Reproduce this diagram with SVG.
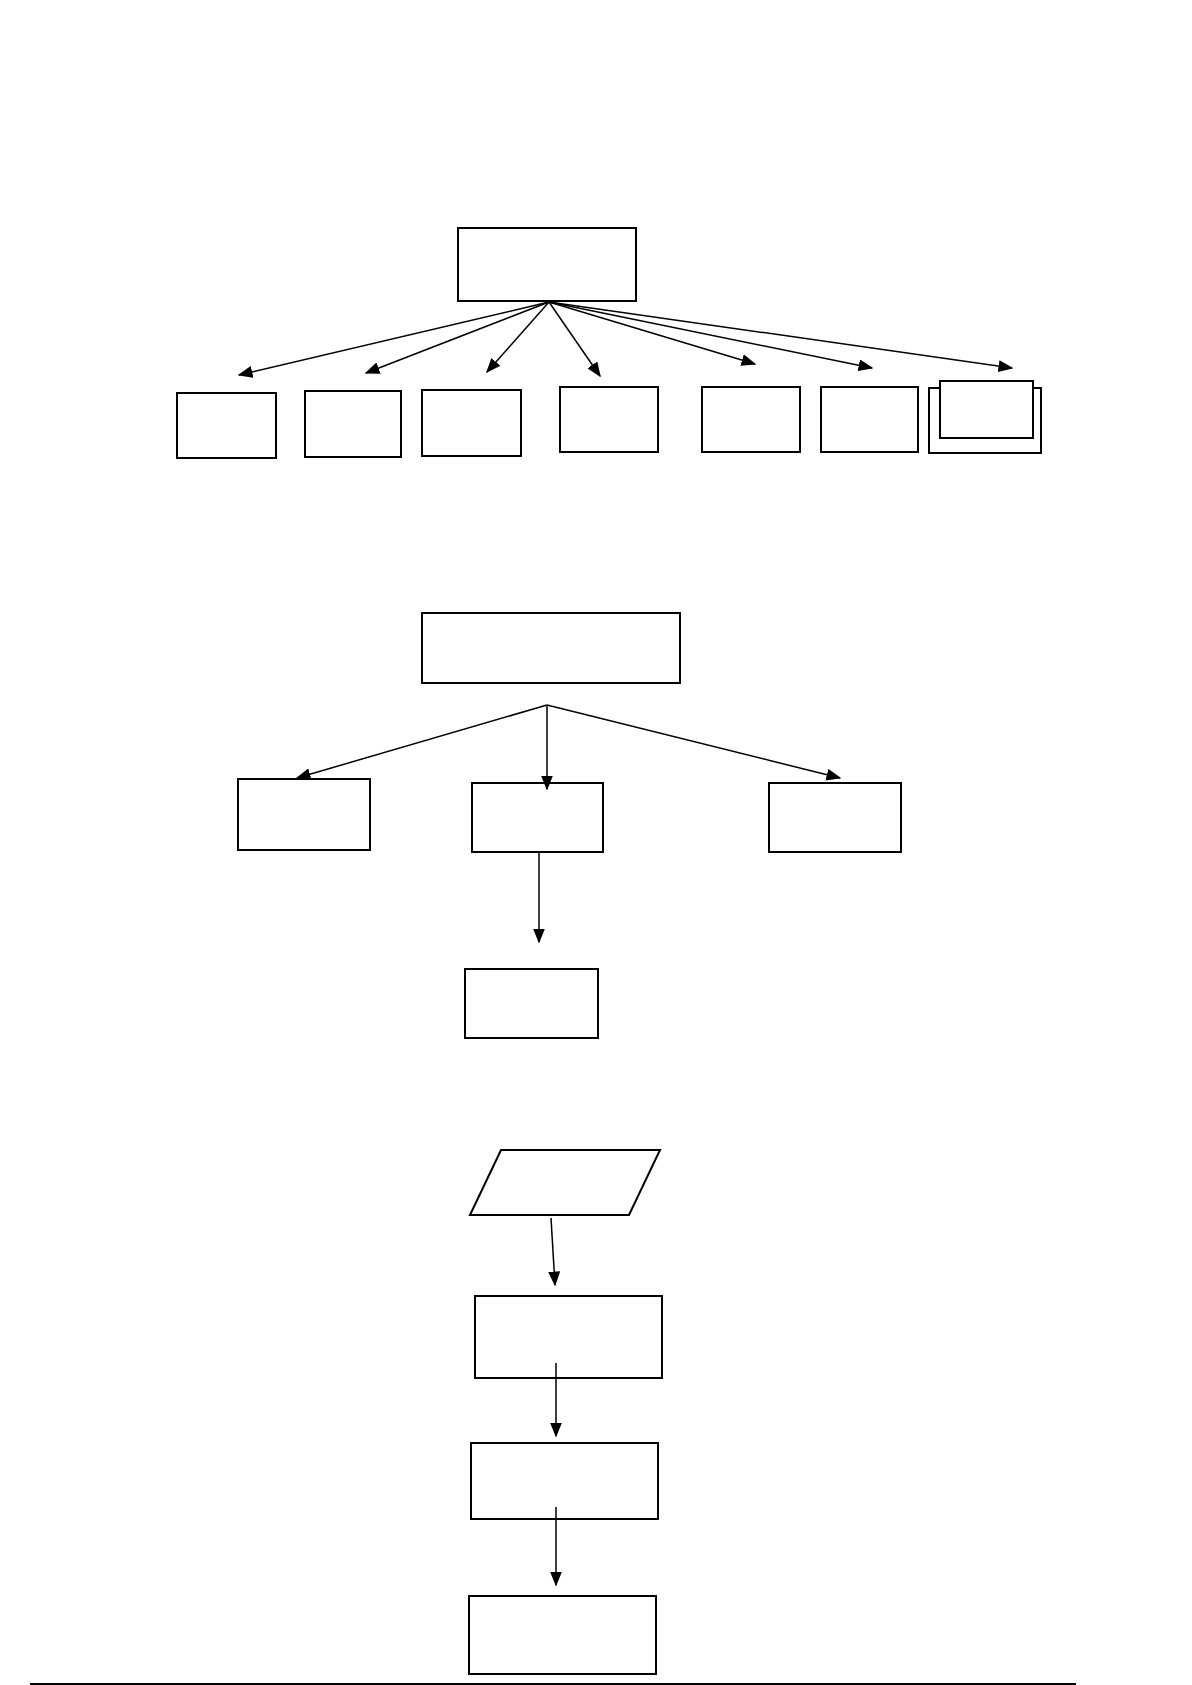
<svg xmlns="http://www.w3.org/2000/svg" width="1192" height="1685" viewBox="0 0 1192 1685">
<style>.b{fill:#fff;stroke:#000;stroke-width:2}.c{stroke:#000;stroke-width:1.5;fill:none;marker-end:url(#a)}</style>
<defs><marker id="a" markerWidth="10" markerHeight="8" refX="9" refY="4" orient="auto" markerUnits="strokeWidth"><path d="M0,0L10,4L0,8z" fill="#000"/></marker></defs>
<rect width="1192" height="1685" fill="#fff"/>
<g id="n0"><rect class="b" x="458" y="228" width="178" height="73"/></g>
<g id="n1"><rect class="b" x="177" y="393" width="99" height="65"/></g>
<g id="n2"><rect class="b" x="305" y="391" width="96" height="66"/></g>
<g id="n3"><rect class="b" x="422" y="390" width="99" height="66"/></g>
<g id="n4"><rect class="b" x="560" y="387" width="98" height="65"/></g>
<g id="n5"><rect class="b" x="702" y="387" width="98" height="65"/></g>
<g id="n6"><rect class="b" x="821" y="387" width="97" height="65"/></g>
<g id="n7"><rect class="b" x="929" y="388" width="112" height="65"/><rect class="b" x="940" y="381" width="93" height="57" stroke-width="1.5"/></g>
<g id="n8"><rect class="b" x="422" y="613" width="258" height="70"/></g>
<g id="n9"><rect class="b" x="238" y="779" width="132" height="71"/></g>
<g id="n10"><rect class="b" x="472" y="783" width="131" height="69"/></g>
<g id="n11"><rect class="b" x="769" y="783" width="132" height="69"/></g>
<g id="n12"><rect class="b" x="465" y="969" width="133" height="69"/></g>
<g id="n13"><path class="b" d="M470,1215L501,1150L660,1150L629,1215z"/></g>
<g id="n14"><rect class="b" x="475" y="1296" width="187" height="82"/></g>
<g id="n15"><rect class="b" x="471" y="1443" width="187" height="76"/></g>
<g id="n16"><rect class="b" x="469" y="1596" width="187" height="78"/></g>
<g id="edges">
<line class="c" x1="549" y1="302" x2="239" y2="375"/>
<line class="c" x1="549" y1="302" x2="366" y2="373"/>
<line class="c" x1="549" y1="302" x2="487" y2="372"/>
<line class="c" x1="549" y1="302" x2="600" y2="376"/>
<line class="c" x1="549" y1="302" x2="755" y2="364"/>
<line class="c" x1="549" y1="302" x2="872" y2="368"/>
<line class="c" x1="549" y1="302" x2="1012" y2="368"/>
<line class="c" x1="547" y1="705" x2="297" y2="778"/>
<line class="c" x1="547" y1="705" x2="547" y2="789"/>
<line class="c" x1="547" y1="705" x2="840" y2="778"/>
<line class="c" x1="539" y1="852" x2="539" y2="942"/>
<line class="c" x1="551" y1="1218" x2="555" y2="1285"/>
<line class="c" x1="556" y1="1363" x2="556" y2="1436"/>
<line class="c" x1="556" y1="1507" x2="556" y2="1585"/>
<line x1="30" y1="1684" x2="1076" y2="1684" stroke="#000" stroke-width="2"/>
</g>
</svg>
